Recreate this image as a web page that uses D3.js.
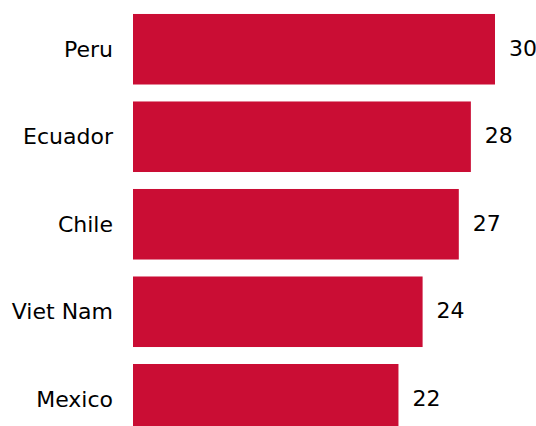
<!DOCTYPE html>
<html>
<head>
<meta charset="utf-8">
<script src="https://cdn.jsdelivr.net/npm/d3@7"></script>
<style>
  html, body { margin: 0; padding: 0; background: #fff; overflow: hidden; }
  svg { display: block; font-family: "DejaVu Sans", sans-serif; }
</style>
</head>
<body>
<script>
// Countries and their values
const countries = ["Peru", "Ecuador", "Chile", "Viet Nam", "Mexico"];
const values = [30, 28, 27, 24, 22];

const width = 536, height = 426;
const barColor = "#ca0d34";

const svg = d3.select("body").append("svg")
  .attr("width", width)
  .attr("height", height);

const x = d3.scaleLinear().domain([0, 30]).range([133, 495]);
const y = d3.scaleBand().domain(countries).range([-3, 451.5]).padding(0.194);

const rows = countries.map((c, i) => ({ country: c, value: values[i] }));

svg.selectAll("rect.bar")
  .data(rows)
  .join("rect")
  .attr("class", "bar")
  .attr("x", x(0))
  .attr("y", d => y(d.country))
  .attr("width", d => x(d.value) - x(0))
  .attr("height", y.bandwidth())
  .attr("fill", barColor);

// Category labels on the left
svg.selectAll("text.cat")
  .data(rows)
  .join("text")
  .attr("class", "cat")
  .attr("x", x(0) - 20)
  .attr("y", d => y(d.country) + y.bandwidth() / 2)
  .attr("dy", "0.35em")
  .attr("text-anchor", "end")
  .attr("font-size", 22)
  .attr("fill", "#000")
  .text(d => d.country);

// Value labels after each bar
svg.selectAll("text.val")
  .data(rows)
  .join("text")
  .attr("class", "val")
  .attr("x", d => x(d.value) + 14)
  .attr("y", d => y(d.country) + y.bandwidth() / 2)
  .attr("dy", "0.3em")
  .attr("text-anchor", "start")
  .attr("font-size", 22)
  .attr("fill", "#000")
  .text(d => d.value);
</script>
</body>
</html>
